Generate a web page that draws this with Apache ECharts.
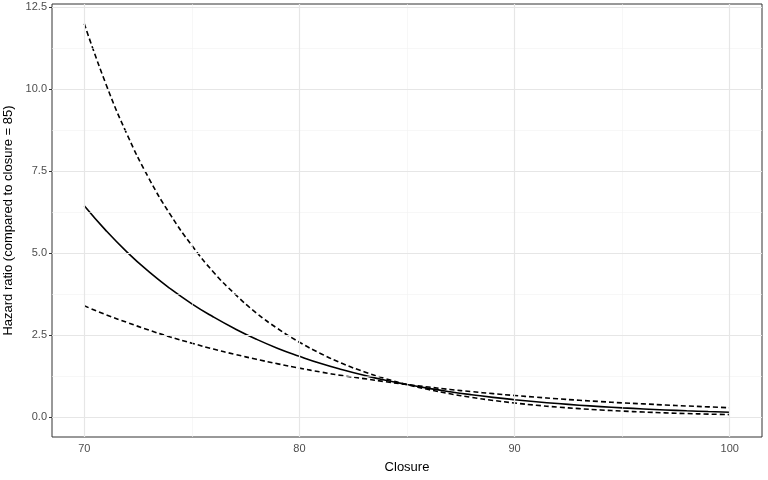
<!DOCTYPE html>
<html><head><meta charset="utf-8">
<script src="https://cdn.jsdelivr.net/npm/echarts@6/dist/echarts.min.js"></script>
<style>html,body{margin:0;padding:0;background:#fff}#c{width:768px;height:480px}</style>
</head><body><div id="c"></div>
<script>
const closure = [70,71,72,73,74,75,76,77,78,79,80,81,82,83,84,85,86,87,88,89,90,91,92,93,94,95,96,97,98,99,100];
const hr = [6.45,5.70,5.03,4.44,3.92,3.46,3.06,2.70,2.38,2.10,1.86,1.64,1.45,1.28,1.13,1.0,0.883,0.78,0.689,0.608,0.537,0.474,0.419,0.37,0.327,0.289,0.255,0.225,0.199,0.176,0.155];
const boundA = [12,10.17,8.61,7.29,6.18,5.24,4.43,3.76,3.18,2.70,2.29,1.94,1.64,1.39,1.18,1.0,0.847,0.717,0.608,0.515,0.436,0.369,0.313,0.265,0.224,0.19,0.161,0.136,0.115,0.098,0.083];
const boundB = [3.4,3.13,2.89,2.66,2.45,2.26,2.08,1.92,1.77,1.63,1.5,1.38,1.27,1.18,1.085,1.0,0.922,0.849,0.783,0.721,0.665,0.613,0.565,0.52,0.48,0.44,0.41,0.375,0.346,0.319,0.29];
const xTicks = [70,80,90,100];
const xMinor = [75,85,95];
const yTicks = [0,2.5,5,7.5,10,12.5];
const yMinor = [1.25,3.75,6.25,8.75,11.25];

const pairs = a => closure.map((x,i)=>[x,a[i]]);
const gridLines = [];
xMinor.forEach(v=>gridLines.push({xAxis:v,lineStyle:{color:'#f2f2f2',width:0.6,type:'solid'}}));
yMinor.forEach(v=>gridLines.push({yAxis:v,lineStyle:{color:'#f2f2f2',width:0.6,type:'solid'}}));
xTicks.forEach(v=>gridLines.push({xAxis:v,lineStyle:{color:'#e6e6e6',width:1.2,type:'solid'}}));
yTicks.forEach(v=>gridLines.push({yAxis:v,lineStyle:{color:'#e6e6e6',width:1.2,type:'solid'}}));

const chart = echarts.init(document.getElementById('c'));
chart.setOption({
  animation:false,
  backgroundColor:'#fff',
  grid:{left:52,right:6,top:4,bottom:43,outerBoundsMode:'none',containLabel:false,show:true,borderColor:'#333',borderWidth:1,backgroundColor:'#fff'},
  xAxis:{type:'value',min:68.5,max:101.5,splitLine:{show:false},
    axisLine:{show:false},
    axisTick:{customValues:xTicks,lineStyle:{color:'#333'},length:3},
    axisLabel:{customValues:xTicks,color:'#4d4d4d',fontSize:11,fontFamily:'Liberation Sans',margin:6},
    name:'Closure',nameLocation:'middle',nameGap:24,nameTextStyle:{color:'#000',fontSize:13,fontFamily:'Liberation Sans'}},
  yAxis:{type:'value',min:-0.6,max:12.6,splitLine:{show:false},
    axisLine:{show:false},
    axisTick:{show:true,customValues:yTicks,lineStyle:{color:'#333'},length:3},
    axisLabel:{customValues:yTicks,color:'#4d4d4d',fontSize:11,fontFamily:'Liberation Sans',margin:5,formatter:v=>v.toFixed(1)},
    name:'Hazard ratio (compared to closure = 85)',nameLocation:'middle',nameGap:35,nameTextStyle:{color:'#000',fontSize:13,fontFamily:'Liberation Sans'}},
  series:[
    {type:'line',data:[],markLine:{silent:true,symbol:'none',label:{show:false},animation:false,data:gridLines},z:1},
    {type:'line',data:pairs(boundA),smooth:true,symbol:'none',lineStyle:{color:'#000',width:1.6,type:[5,3]},z:3},
    {type:'line',data:pairs(boundB),smooth:true,symbol:'none',lineStyle:{color:'#000',width:1.6,type:[5,3]},z:3},
    {type:'line',data:pairs(hr),smooth:true,symbol:'none',lineStyle:{color:'#000',width:1.6},z:3}
  ]
});
</script></body></html>
